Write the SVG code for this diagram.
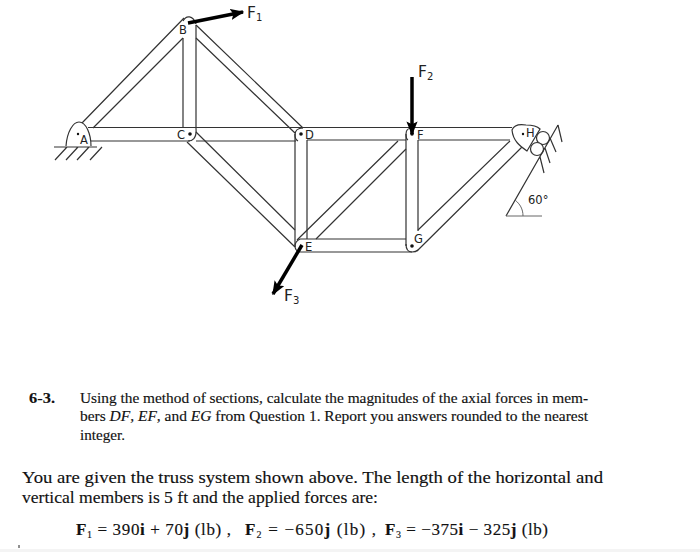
<svg xmlns="http://www.w3.org/2000/svg" width="700" height="552" viewBox="0 0 700 552">
<style>
.m{fill:none;stroke:#333;stroke-width:1.200}
.n{fill:#fff;stroke:#333;stroke-width:1.200}
.t{fill:none;stroke:#666;stroke-width:1}
.d{fill:#111}
.l{font-family:"DejaVu Sans",sans-serif;font-size:11.500px;fill:#222}
.f{font-family:"DejaVu Sans",sans-serif;font-size:15.500px;fill:#222}
.s{font-size:10px}
.p{font-family:"Liberation Serif",serif;font-size:14.500px;fill:#111;stroke:#111;stroke-width:.15}
.q{font-family:"Liberation Serif",serif;font-size:17px;fill:#111;stroke:#111;stroke-width:.15}
.a{stroke:#000;stroke-width:3.500;fill:none;marker-end:url(#h)}
</style>
<defs>
<marker id="h" viewBox="0 0 10 8" refX="9" refY="4" markerWidth="4" markerHeight="3.200" orient="auto"><path d="M0 0L10 4L0 8L2 4Z" fill="#000"/></marker>
</defs>
<rect width="700" height="552" fill="#fff"/>
<rect y="549" width="700" height="3" fill="#f4f4f4"/>
<path d="M19 545V548" stroke="#222" stroke-width="1"/>
<g id="connectors">
<path class="m" d="M82 123L184 18M93 128L183 38"/>
<path class="m" d="M183 38V128M196 25V128"/>
<path class="m" d="M196 25L303 128M196 38L295 133"/>
<path class="m" d="M88 127.500H303M91 141H190M196 141H296"/>
<path class="m" d="M196 132L295 230M187 142L295 247"/>
<path class="m" d="M295 134V247M307 140V239"/>
<path class="m" d="M303 127.500H512M307 140H406M418 140H510"/>
<path class="m" d="M406 134V246M418 140V231"/>
<path class="m" d="M398 141L297 240M406 149L316 239"/>
<path class="m" d="M300 239H406M301 252H412"/>
<path class="m" d="M418 230L510 141M417 251L522 147"/>
</g>
<g id="node-A">
<path class="n" d="M66 146C67 132 73 122 79 122C86 122 91 134 91 146"/>
<path class="m" d="M54 147H97M67 147L55 160M78 147L66 160M89 147L77 160M102 147L90 160"/>
<circle class="d" cx="78" cy="134" r="1.200"/>
<text class="l" x="80" y="144">A</text>
</g>
<g id="node-B">
<path class="m" d="M183 21C186 15 193 15 196 24"/>
<text class="l" x="179" y="34">B</text>
</g>
<g id="node-C">
<path class="m" d="M196 128C197 139 192 141 188 141"/>
<circle class="d" cx="190" cy="134" r="1.800"/>
<text class="l" x="177" y="139">C</text>
</g>
<g id="node-D">
<path class="m" d="M303 128C298 128 295 130 295 135C295 138 296 140 298 141"/>
<circle class="d" cx="301" cy="134" r="1.800"/>
<text class="l" x="305" y="139">D</text>
</g>
<g id="node-E">
<path class="m" d="M300 239C296 241 295 243 295 246C295 250 298 252 301 252"/>
<text class="l" x="305" y="251">E</text>
</g>
<g id="node-F">
<path class="m" d="M412 128C408 128 406 130 406 134C406 137 406 139 408 140"/>
<circle class="d" cx="412" cy="134" r="1.800"/>
<text class="l" x="417" y="139">F</text>
</g>
<g id="node-G">
<path class="m" d="M406 244C406 250 408 252 412 252C415 252 416 252 418 250"/>
<circle class="d" cx="412" cy="246" r="1.800"/>
<text class="l" x="414" y="243">G</text>
</g>
<g id="node-H">
<path class="n" d="M512 130C514 125 520 124 526 125C532 125 537 126 540 129L527 151C520 146 513 141 512 130Z"/>
<circle class="d" cx="523" cy="134" r="1.200"/>
<text class="l" x="526" y="137">H</text>
<circle class="n" cx="543" cy="138" r="6.500"/>
<circle class="n" cx="537" cy="149" r="6.500"/>
<path class="m" d="M558 125L506 216M558 125L562 142M550 138L556 152M545 148L550 163M540 157L544 173"/>
<path class="t" d="M506 216H542M515 200C520 204 523 209 523 216"/>
<text class="l" x="528" y="204">60°</text>
</g>
<g id="forces">
<path class="a" d="M188 23L243 12"/>
<text class="f" x="247" y="18">F<tspan class="s" dy="3">1</tspan></text>
<path class="a" d="M412 77V134"/>
<text class="f" x="418" y="77">F<tspan class="s" dy="3">2</tspan></text>
<path class="a" d="M302 245L273 294"/>
<text class="f" x="284" y="301">F<tspan class="s" dy="3">3</tspan></text>
</g>
<g id="text">
<text class="p" x="29" y="403" font-weight="bold" textLength="26" lengthAdjust="spacingAndGlyphs">6-3.</text>
<text class="p" x="80" y="403" textLength="508" lengthAdjust="spacingAndGlyphs">Using the method of sections, calculate the magnitudes of the axial forces in mem-</text>
<text class="p" x="80" y="421" textLength="508" lengthAdjust="spacingAndGlyphs">bers <tspan font-style="italic">DF</tspan>, <tspan font-style="italic">EF</tspan>, and <tspan font-style="italic">EG</tspan> from Question 1. Report you answers rounded to the nearest</text>
<text class="p" x="80" y="440" textLength="45" lengthAdjust="spacingAndGlyphs">integer.</text>
<text class="q" x="22" y="483" textLength="581" lengthAdjust="spacingAndGlyphs">You are given the truss system shown above. The length of the horizontal and</text>
<text class="q" x="22" y="503" textLength="356" lengthAdjust="spacingAndGlyphs">vertical members is 5 ft and the applied forces are:</text>
<text class="q" x="76" y="535" textLength="155" lengthAdjust="spacing"><tspan font-weight="bold">F</tspan><tspan font-size="10" dy="3">1</tspan><tspan dy="-3"> = 390</tspan><tspan font-weight="bold">i</tspan> + 70<tspan font-weight="bold">j</tspan> (lb) ,</text>
<text class="q" x="245" y="535" textLength="131" lengthAdjust="spacing"><tspan font-weight="bold">F</tspan><tspan font-size="10" dy="3">2</tspan><tspan dy="-3"> = −650</tspan><tspan font-weight="bold">j</tspan> (lb) ,</text>
<text class="q" x="385" y="535" textLength="163" lengthAdjust="spacing"><tspan font-weight="bold">F</tspan><tspan font-size="10" dy="3">3</tspan><tspan dy="-3"> = −375</tspan><tspan font-weight="bold">i</tspan> − 325<tspan font-weight="bold">j</tspan> (lb)</text>
</g>
</svg>
